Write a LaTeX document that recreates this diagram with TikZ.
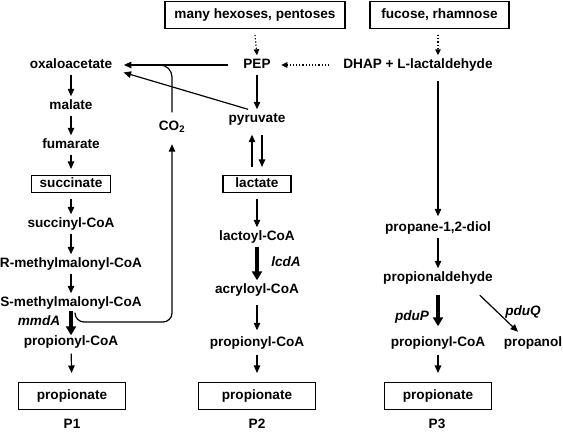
\documentclass[tikz,border=0pt]{standalone}
\usepackage{fontspec}
\setmainfont{Liberation Sans}
\usetikzlibrary{arrows.meta}

\tikzset{
  every node/.style={font=\fontsize{13.6}{15}\selectfont\bfseries, text height=9.5pt, text depth=2.5pt, inner sep=3.5pt},
  box/.style={draw, line width=1.2pt, minimum height=27pt, outer sep=6.5pt},
  smallbox/.style={draw, line width=1.2pt, inner ysep=2.5pt, outer sep=6.5pt},
  gene/.style={font=\fontsize{13.6}{15}\selectfont\bfseries\itshape},
  arr/.style={line width=1.2pt, -{Triangle[length=7.5pt,width=6.5pt]}},
  bigarr/.style={line width=3.5pt, -{Triangle[length=9pt,width=10pt]}},
  dotarr/.style={line width=1.2pt, dotted, -{Triangle[length=6pt,width=5.5pt]}},
}

\begin{document}
\begin{tikzpicture}[x=1pt,y=1pt]
\useasboundingbox (0,0) rectangle (563,435);

% sugars
\node[box, minimum width=180pt] (hexoses) at (255,420) {many hexoses, pentoses};
\node[box, minimum width=139pt] (fucose) at (439.5,420) {fucose, rhamnose};

\node (oxalo) at (71,370) {oxaloacetate};
\node (pep) at (257,370) {PEP};
\node (dhap) at (418,370) {DHAP + L-lactaldehyde};
\node (pyruvate) at (257,316) {pyruvate};
\node (co2) at (172,308) {CO\textsubscript{2}};
\coordinate (join) at (158,370);

% P1
\node (malate) at (71,329) {malate};
\node (fumarate) at (71,290) {fumarate};
\node[smallbox, minimum width=79pt] (succinate) at (71,251) {succinate};
\node (succoa) at (71,211) {succinyl-CoA};
\node (rmm) at (71,171) {R-methylmalonyl-CoA};
\node (smm) at (71,132) {S-methylmalonyl-CoA};
\node[gene] (mmda) at (39,113) {mmdA};
\node (propcoaA) at (71,93) {propionyl-CoA};
\node[box, minimum width=107pt] (propA) at (72,39) {propionate};
\node (pA) at (72,10) {P1};

% P2
\node[smallbox, minimum width=68pt] (lactate) at (257,251) {lactate};
\node (lactoyl) at (257,198) {lactoyl-CoA};
\node[gene] (lcda) at (286,172) {lcdA};
\node (acryloyl) at (257,145) {acryloyl-CoA};
\node (propcoaB) at (257,92) {propionyl-CoA};
\node[box, minimum width=117pt] (propB) at (257,39) {propionate};
\node (pB) at (257,10) {P2};

% P3
\node (diol) at (438,207) {propane-1,2-diol};
\node (propald) at (438,157) {propionaldehyde};
\node[gene] (pdup) at (412,118) {pduP};
\node[gene] (pduq) at (523,123) {pduQ};
\node (propcoaC) at (438,92) {propionyl-CoA};
\node (propanol) at (533,92) {propanol};
\node[box, minimum width=107pt] (propC) at (438,39) {propionate};
\node (pC) at (437,10) {P3};

% top part
\draw[dotarr] (hexoses.south) -- (pep.north);
\draw[dotarr] (fucose.south -| diol) -- (dhap.north -| diol);
\draw[dotarr, shorten <=10.5pt, shorten >=7pt] (dhap.west) -- (pep.east);
\draw[arr, shorten <=12pt, shorten >=8pt] (pep.west) -- (oxalo.east);
\draw[arr, shorten >=8pt] ([xshift=-9pt]pyruvate.north) -- ([yshift=4.5pt]oxalo.south east);
\draw[line width=1.2pt, rounded corners=12pt, shorten <=5pt] (co2.north) |- (join);
\draw[arr] (pep) -- (pyruvate);
\draw[arr, shorten <=2pt, shorten >=6pt] ([xshift=-5pt]lactate.north) -- ([xshift=-5pt]pyruvate.south);
\draw[arr, shorten <=6pt, shorten >=2pt] ([xshift=5pt]pyruvate.south) -- ([xshift=5pt]lactate.north);

% P1 arrows
\draw[arr] (oxalo) -- (malate);
\draw[arr] (malate) -- (fumarate);
\draw[arr] (fumarate) -- (succinate);
\draw[arr] (succinate) -- (succoa);
\draw[arr] (succoa) -- (rmm);
\draw[arr] (rmm) -- (smm);
\draw[bigarr, shorten <=-2pt, shorten >=-3pt] (smm) -- (propcoaA);
\draw[arr, rounded corners=9pt, shorten >=7.5pt] ([xshift=4pt]smm.south) |- (co2 |- mmda) -- (co2.south);
\draw[arr, shorten <=2pt, shorten >=3pt] (propcoaA) -- (propA);

% P2 arrows
\draw[arr] (lactate) -- (lactoyl);
\draw[bigarr] (lactoyl) -- (acryloyl);
\draw[arr, shorten <=5pt, shorten >=3pt] (acryloyl) -- (propcoaB);
\draw[arr, shorten <=2pt, shorten >=3pt] (propcoaB) -- (propB);

% P3 arrows
\draw[arr, shorten <=6pt, shorten >=2pt] (dhap.south -| diol) -- (diol.north);
\draw[arr] (diol) -- (propald);
\draw[bigarr, shorten <=7pt, shorten >=7pt] (propald) -- (propcoaC);
\draw[arr] ([xshift=-16.7pt,yshift=-7.5pt]propald.south east) -- ([xshift=-15pt,yshift=1.5pt]propanol.north);
\draw[arr, shorten <=2pt, shorten >=3pt] (propcoaC) -- (propC);
\end{tikzpicture}
\end{document}
